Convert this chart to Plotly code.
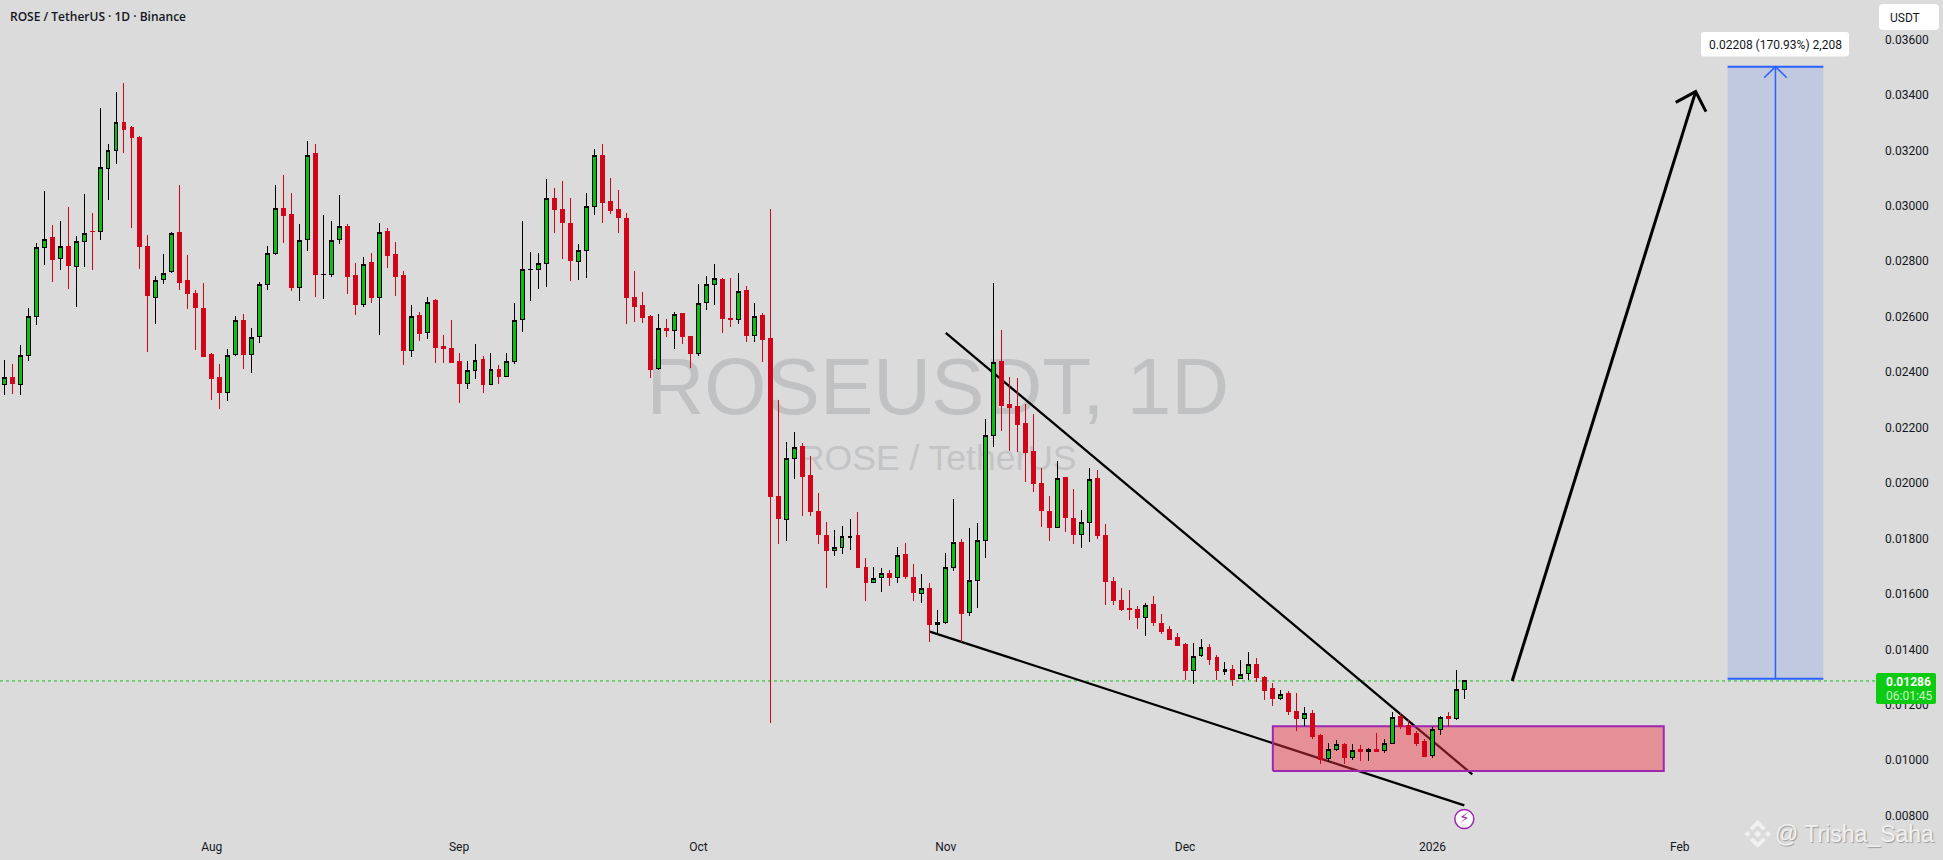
import pandas as pd
import plotly.graph_objects as go

# Prices are written in exchange ticks (1 tick = 0.00001 USDT)
TICK = 1e-5
first_day = "2025-07-06"
opens = [
 2356,2381,2356,2461,2601,2850,2884,2811,2854,2782,
 2872,2909,2908,3135,3200,3302,3281,3248,2855,2670,
 2735,2762,2902,2729,2685,2631,2465,2379,2327,2464,
 2588,2464,2529,2717,2829,2992,2967,2705,2879,3187,
 2752,2753,2879,2927,2750,2645,2794,2670,2906,2826,
 2747,2479,2603,2544,2657,2491,2487,2437,2360,2407,
 2444,2356,2411,2385,2439,2591,2770,2771,2793,3028,
 2985,2938,2800,2839,2998,3183,3017,2985,2956,2671,
 2639,2599,2414,2559,2551,2610,2527,2468,2652,2717,
 2736,2595,2591,2693,2533,2606,2520,1953,1867,2088,
 2130,2028,1899,1812,1756,1767,1803,1809,1697,1642,
 1660,1672,1660,1741,1661,1602,1621,1491,1497,1695,
 1787,1533,1649,1793,2170,2437,2282,2275,2216,2115,
 1999,1899,1839,2019,1873,1814,1858,2015,1809,1646,
 1578,1549,1545,1515,1560,1495,1470,1441,1416,1324,
 1377,1408,1369,1319,1329,1294,1312,1347,1300,1257,
 1222,1239,1177,1150,1170,1091,1005,1038,1058,1010,
 1037,1031,1040,1034,1061,1156,1126,1098,1066,1016,
 1111,1156,1151,1256]
highs = [
 2444,2429,2498,2631,2866,3053,2931,2945,2996,2891,
 3043,2974,3353,3223,3411,3443,3288,3252,2895,2747,
 2826,2906,3075,2823,2696,2722,2469,2429,2483,2602,
 2610,2559,2725,2855,3075,3111,3046,2934,3234,3223,
 2967,2945,3039,2934,2794,2815,2830,2938,2920,2869,
 2765,2643,2617,2671,2664,2534,2588,2469,2440,2502,
 2458,2469,2426,2469,2650,2945,2833,2830,3097,3064,
 3090,3028,2862,3046,3205,3223,3100,3057,2974,2765,
 2689,2606,2610,2592,2617,2612,2529,2718,2747,2790,
 2740,2740,2758,2711,2650,2614,2988,2299,2148,2184,
 2144,2098,1964,1859,1831,1845,1870,1895,1730,1697,
 1693,1686,1769,1783,1708,1672,1639,1542,1748,1942,
 1798,1838,1855,2231,2721,2551,2382,2378,2284,2249,
 2054,1953,2080,2021,1978,1903,2054,2047,1852,1661,
 1621,1614,1556,1567,1592,1527,1483,1459,1423,1423,
 1437,1419,1379,1354,1343,1361,1390,1369,1304,1278,
 1253,1248,1242,1192,1181,1094,1062,1073,1062,1058,
 1055,1044,1098,1076,1174,1170,1145,1105,1076,1120,
 1159,1174,1325,1286]
lows = [
 2319,2322,2319,2441,2571,2788,2726,2770,2701,2636,
 2780,2770,2878,3022,3152,3192,2921,2773,2474,2575,
 2719,2759,2697,2629,2481,2455,2301,2268,2297,2459,
 2412,2398,2505,2697,2823,2867,2694,2658,2838,2672,
 2665,2744,2863,2683,2607,2636,2651,2535,2777,2676,
 2427,2453,2514,2518,2434,2434,2434,2287,2341,2377,
 2326,2352,2359,2383,2431,2546,2658,2701,2708,2903,
 2809,2730,2734,2741,2968,2939,2972,2903,2575,2582,
 2579,2380,2409,2525,2485,2503,2416,2460,2625,2644,
 2542,2564,2575,2510,2510,2438,1136,1781,1792,2016,
 1882,1882,1781,1622,1738,1745,1760,1692,1576,1640,
 1608,1630,1641,1655,1576,1569,1427,1454,1493,1683,
 1427,1522,1550,1731,2131,2186,2115,2111,2005,1969,
 1842,1792,1836,1823,1781,1766,1788,1799,1560,1560,
 1538,1506,1473,1448,1484,1455,1434,1411,1289,1275,
 1372,1343,1289,1307,1268,1292,1289,1284,1217,1195,
 1218,1163,1105,1123,1076,986,995,1033,986,1001,
 997,997,1030,1026,1058,1113,1091,1051,1013,1008,
 1091,1120,1146,1221]
closes = [
 2381,2358,2461,2601,2850,2879,2806,2854,2784,2872,
 2901,2906,3139,3200,3301,3277,3245,2853,2676,2731,
 2756,2901,2723,2683,2633,2458,2376,2326,2461,2587,
 2463,2526,2717,2829,2991,2964,2705,2875,3182,2752,
 2754,2875,2926,2744,2643,2789,2669,2904,2820,2744,
 2478,2602,2539,2652,2489,2485,2434,2359,2407,2443,
 2355,2410,2384,2439,2587,2771,2772,2791,3027,2986,
 2939,2802,2839,2998,3182,3011,2982,2957,2669,2636,
 2597,2409,2558,2550,2609,2528,2467,2648,2717,2739,
 2593,2590,2692,2532,2602,2518,1950,1871,2089,2128,
 2025,1897,1814,1756,1767,1808,1808,1694,1641,1656,
 1673,1659,1739,1663,1604,1620,1489,1498,1695,1786,
 1528,1649,1793,2172,2436,2280,2272,2210,2110,1999,
 1900,1839,2016,1875,1814,1858,2014,1810,1644,1575,
 1542,1545,1514,1559,1496,1466,1437,1413,1323,1375,
 1407,1365,1323,1328,1293,1310,1346,1297,1253,1221,
 1238,1174,1149,1169,1087,1004,1039,1057,1011,1036,
 1031,1039,1033,1061,1155,1120,1094,1062,1015,1111,
 1155,1150,1256,1286]

price_ticks = [0.008,0.010,0.012,0.014,0.016,0.018,0.020,0.022,0.024,0.026,0.028,0.030,0.032,0.034,0.036]
date_ticks = ["2025-08-01","2025-09-01","2025-10-01","2025-11-01","2025-12-01","2026-01-01","2026-02-01"]
date_labels = ["Aug","Sep","Oct","Nov","Dec","2026","Feb"]

last_price = 0.01286
upper_line_x = ["2025-11-01","2026-01-06"]
upper_line_y = [0.02542,0.00949]
lower_line_x = ["2025-10-30","2026-01-05"]
lower_line_y = [0.01464,0.00837]
zone_x = ["2025-12-12","2026-01-30"]
zone_y = [0.00961,0.01123]
target_x = ["2026-02-07","2026-02-19"]
target_y = [0.01294,0.03502]
target_mid = "2026-02-13"
target_head_x = ["2026-02-11 14:00","2026-02-13","2026-02-14 10:00"]
target_head_y = [0.03462,0.03502,0.03462]
arrow_x = ["2026-01-11","2026-02-03"]
arrow_y = [0.01286,0.03412]
arrow_head_x = ["2026-01-31 12:00","2026-02-03","2026-02-04 07:00"]
arrow_head_y = [0.03373,0.03412,0.03340]
x_range = ["2025-07-05 11:00","2026-02-26 02:30"]
y_range = [0.007483,0.037425]
bolt_x = ["2026-01-05"]
bolt_y = [0.00788]

WIDTH, HEIGHT = 1943, 860
PLOT_W, PLOT_H = 1880, 830
BG = "#DBDBDB"
INK = "#131722"
GREEN = "#0ABF0F"
RED = "#D10519"
PURPLE = "#9C27B0"
BLUE = "#2962FF"

days = pd.date_range(first_day, periods=len(opens), freq="D")
def scale(v):
    return [round(p * TICK, 5) for p in v]

def px_x(x):
    return x / PLOT_W
def px_y(y):
    return 1 - y / PLOT_H

def closed_x(a):
    return [a[0], a[1], a[1], a[0], a[0]]
def closed_y(a):
    return [a[0], a[0], a[1], a[1], a[0]]

fig = go.Figure()

# Everything below the candles lives on the base axes; candles sit on an overlay.
fig.add_trace(go.Scatter(x=["2025-10-31"], y=[0.02322], mode="text", text=["ROSEUSDT, 1D"],
    textposition="middle center", textfont=dict(family="Liberation Sans", size=80, color="#C0C1C3"),
    showlegend=False, hoverinfo="skip", cliponaxis=False))
fig.add_trace(go.Scatter(x=["2025-10-31"], y=[0.02080], mode="text", text=["ROSE / TetherUS"],
    textposition="middle center", textfont=dict(family="Liberation Sans", size=35.5, color="#C3C4C6"),
    showlegend=False, hoverinfo="skip"))
fig.add_trace(go.Scatter(x=x_range, y=[last_price, last_price], mode="lines",
    line=dict(color="#12BF16", width=1, dash="dot"), showlegend=False, hoverinfo="skip"))
for xs, ys in ((upper_line_x, upper_line_y), (lower_line_x, lower_line_y)):
    fig.add_trace(go.Scatter(x=xs, y=ys, mode="lines", line=dict(color="#000000", width=2.3),
                             showlegend=False, hoverinfo="skip"))
fig.add_trace(go.Scatter(x=closed_x(zone_x), y=closed_y(zone_y), mode="lines", fill="toself",
    fillcolor="rgba(242,54,69,0.45)", line=dict(color=PURPLE, width=2), showlegend=False, hoverinfo="skip"))
fig.add_trace(go.Scatter(x=closed_x(target_x), y=closed_y(target_y), mode="lines", fill="toself",
    fillcolor="rgba(41,98,255,0.15)", line=dict(width=0), showlegend=False, hoverinfo="skip"))
for yv in target_y:
    fig.add_trace(go.Scatter(x=target_x, y=[yv, yv], mode="lines", line=dict(color=BLUE, width=2),
                             showlegend=False, hoverinfo="skip"))
fig.add_trace(go.Scatter(x=[target_mid, target_mid], y=target_y, mode="lines", line=dict(color=BLUE, width=1.5),
                         showlegend=False, hoverinfo="skip"))
fig.add_trace(go.Scatter(x=target_head_x, y=target_head_y, mode="lines", line=dict(color=BLUE, width=1.5),
                         showlegend=False, hoverinfo="skip"))
fig.add_trace(go.Scatter(x=arrow_x, y=arrow_y, mode="lines", line=dict(color="#000000", width=3),
                         showlegend=False, hoverinfo="skip"))
fig.add_trace(go.Scatter(x=arrow_head_x, y=arrow_head_y, mode="lines", line=dict(color="#000000", width=3),
                         showlegend=False, hoverinfo="skip"))
fig.add_trace(go.Scatter(x=bolt_x, y=bolt_y, mode="markers+text", text=["\u26A1"],
    textposition="middle center", textfont=dict(family="DejaVu Sans", size=15, color=PURPLE),
    marker=dict(size=19, color="#FFFFFF", line=dict(color=PURPLE, width=1.5)),
    showlegend=False, hoverinfo="skip"))

fig.add_trace(go.Candlestick(
    x=days, open=scale(opens), high=scale(highs), low=scale(lows), close=scale(closes),
    xaxis="x2", yaxis="y2",
    increasing=dict(line=dict(color="#000000", width=1), fillcolor=GREEN),
    decreasing=dict(line=dict(color=RED, width=1), fillcolor=RED),
    showlegend=False, whiskerwidth=0))

def round_rect(x0, y0, x1, y1, r, fill):
    xa, xb, ya, yb = px_x(x0), px_x(x1), px_y(y0), px_y(y1)
    rx, ry = r / PLOT_W, r / PLOT_H
    path = (f"M{xa+rx},{ya} L{xb-rx},{ya} Q{xb},{ya} {xb},{ya-ry} L{xb},{yb+ry} Q{xb},{yb} {xb-rx},{yb} "
            f"L{xa+rx},{yb} Q{xa},{yb} {xa},{yb+ry} L{xa},{ya-ry} Q{xa},{ya} {xa+rx},{ya} Z")
    return dict(type="path", path=path, xref="paper", yref="paper", fillcolor=fill, line=dict(width=0), layer="above")

def diamond(cx, cy, r, fill):
    pts = [(cx, cy - r), (cx + r, cy), (cx, cy + r), (cx - r, cy)]
    path = "M" + " L".join(f"{px_x(a)},{px_y(b)}" for a, b in pts) + " Z"
    return dict(type="path", path=path, xref="paper", yref="paper", fillcolor=fill, line=dict(width=0), layer="above")

def chevron(cx, cy, up, fill):
    s = -1 if up else 1
    pts = [(cx, cy + s * 14), (cx + 8, cy + s * 6), (cx + 5.2, cy + s * 3.5), (cx, cy + s * 8.6), (cx - 5.2, cy + s * 3.5), (cx - 8, cy + s * 6)]
    path = "M" + " L".join(f"{px_x(a)},{px_y(b)}" for a, b in pts) + " Z"
    return dict(type="path", path=path, xref="paper", yref="paper", fillcolor=fill, line=dict(width=0), layer="above")

LOGO = "#F1F1F1"
shapes = [
    round_rect(1879, 4, 1939, 30, 4, "#FFFFFF"),
    round_rect(1701, 32, 1849, 56.5, 3, "#FFFFFF"),
    round_rect(1876, 673, 1936, 704, 2, "#0CCB12"),
    diamond(1757.7, 834, 3.6, LOGO), diamond(1747.5, 834, 3, LOGO), diamond(1768, 834, 3, LOGO),
    chevron(1757.7, 834, True, LOGO), chevron(1757.7, 834, False, LOGO),
]

def note(x, y, text, size, color, family="Roboto", anchor="left", shadow=None, weight=None):
    return dict(x=px_x(x), y=px_y(y), xref="paper", yref="paper", text=text, showarrow=False,
                xanchor=anchor, yanchor="middle",
                font=dict(family=family, size=size, color=color, shadow=shadow or "none", weight=weight or "normal"))

notes = [
    note(8, 16.5, "ROSE / TetherUS \u00B7 1D \u00B7 Binance", 12, INK, family="Open Sans", weight=600),
    note(1888, 17.5, "USDT", 12, INK),
    note(1775, 44.5, "0.02208 (170.93%) 2,208", 12, INK, anchor="center"),
    note(1884, 681.5, "0.01286", 12, "#FFFFFF", weight=700),
    note(1884, 695.5, "06:01:45", 12, "#C9F5CB"),
    note(1936, 834, "@ Trisha_Saha", 23, "#F1F1F1", family="Liberation Sans", anchor="right", shadow="1px 1px 1px #9A9A9A"),
]

fig.update_layout(
    width=WIDTH, height=HEIGHT, autosize=False,
    margin=dict(l=0, r=WIDTH - PLOT_W, t=0, b=HEIGHT - PLOT_H, pad=0),
    paper_bgcolor=BG, plot_bgcolor=BG, showlegend=False, boxgap=0.3,
    font=dict(family="Roboto", size=12, color=INK),
    shapes=shapes, annotations=notes, dragmode=False,
    xaxis=dict(type="date", range=x_range, tickvals=date_ticks, ticktext=date_labels, tickmode="array",
               showgrid=False, zeroline=False, showline=False, ticks="", ticklabelstandoff=8,
               tickfont=dict(family="Roboto", size=12, color=INK), rangeslider=dict(visible=False)),
    yaxis=dict(range=y_range, side="right", tickvals=price_ticks, tickformat=".5f", tickmode="array",
               showgrid=False, zeroline=False, showline=False, ticks="", ticklabelstandoff=4,
               tickfont=dict(family="Roboto", size=12, color=INK)),
    xaxis2=dict(type="date", range=x_range, overlaying="x", anchor="y2", visible=False,
                rangeslider=dict(visible=False), showgrid=False),
    yaxis2=dict(range=y_range, overlaying="y", anchor="x2", side="right", visible=False, showgrid=False),
)

crisp = ("var s=document.createElement('style');"
         "s.textContent='.boxes path{shape-rendering:crispEdges}';"
         "document.head.appendChild(s);"
         "document.body.style.margin='0';document.body.style.overflow='hidden';")
fig.write_html("out.html", config=dict(displayModeBar=False), post_script=crisp)
